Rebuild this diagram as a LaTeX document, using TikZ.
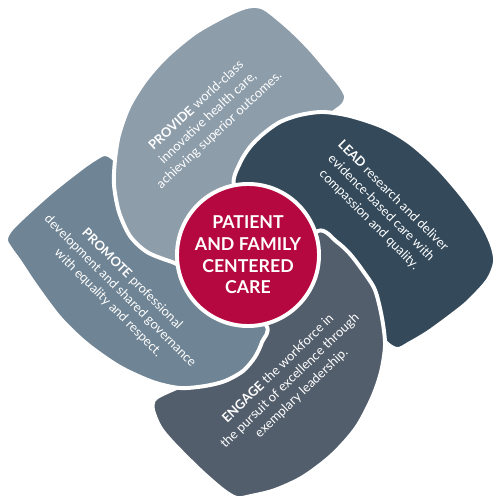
\documentclass[tikz,border=0pt]{standalone}
\usepackage{fontspec}
\setmainfont{Lato}

\definecolor{provideclr}{RGB}{141,157,170}
\definecolor{leadclr}{RGB}{52,74,91}
\definecolor{engageclr}{RGB}{83,94,108}
\definecolor{promoteclr}{RGB}{111,132,148}
\definecolor{careclr}{RGB}{182,8,64}

\tikzset{
  petal/.style={draw=white, line width=2.8pt, line join=round},
  blurb/.style={text=white, align=center, inner sep=0pt,
    font=\fontsize{9.2}{12}\selectfont},
  hub/.style={circle, fill=careclr, draw=white, line width=2.8pt,
    minimum size=3.55cm, inner sep=0pt, text=white, align=center,
    font=\bfseries\fontsize{12.6}{15.4}\selectfont},
}

% outline of the top petal, drawn twice (it lies over the left one)
\newcommand\provideshape{plot[smooth cycle] coordinates {
  (200,270) (172,262) (147,252) (130,236) (119,212) (114,185) (115,160)
  (119,135) (129,107) (145,81) (166,57) (195,33) (225,16) (243,8)
  (256,6) (267,10) (290,29) (310,49) (327,69) (340,85) (346,96)
  (343,105) (333,113) (310,135) (272,190) (245,235)}}

\begin{document}
\begin{tikzpicture}[x=0.025cm, y=-0.025cm]
  \useasboundingbox (0,0) rectangle (500,503);

  \path[petal, fill=provideclr] \provideshape;
  \path[petal, fill=leadclr] plot[smooth cycle] coordinates {
    (255,215) (234,185) (240,163) (250,147) (263,134) (280,122) (300,115)
    (323,112) (350,116) (383,127) (410,143) (437,167) (463,197) (482,224)
    (492,245) (495,262) (488,280) (470,300) (457,311) (430,331) (410,343)
    (396,349) (380,335) (365,295) (330,262) (290,240)};
  \path[petal, fill=engageclr] plot[smooth cycle] coordinates {
    (285,265) (318,231) (337,242) (350,254) (363,271) (375,290) (382,318)
    (385,345) (381,372) (372,398) (356,428) (332,455) (303,477) (275,490)
    (251,496) (237,498) (223,490) (200,470) (173,443) (160,427) (153,410)
    (154,400) (163,394) (190,382) (225,365) (250,330)};
  \path[petal, fill=promoteclr] plot[smooth cycle] coordinates {
    (225,290) (266,325) (262,342) (255,357) (243,371) (225,381) (205,386)
    (180,388) (153,382) (120,367) (87,344) (60,318) (36,286) (20,262)
    (10,248) (6,239) (14,226) (50,193) (83,167) (98,157) (105,154)
    (113,158) (130,175) (165,215) (200,255)};
  \begin{scope}
    \clip (0,0) rectangle (195,300);
    \path[petal, fill=provideclr] \provideshape;
  \end{scope}

  \node[hub] (care) at (248,255) {PATIENT\\AND FAMILY\\CENTERED\\CARE};

  \node[blurb, rotate=43] (provide) at (208,118)
    {\textbf{PROVIDE} world-class\\innovative health care,\\achieving superior outcomes.};
  \node[blurb, rotate=-45] (lead) at (381,208)
    {\textbf{LEAD} research and deliver\\evidence-based care with\\compassion and quality.};
  \node[blurb, rotate=44] (engage) at (290,381)
    {\textbf{ENGAGE} the workforce in\\the pursuit of excellence through\\exemplary leadership.};
  \node[blurb, rotate=-45] (promote) at (120,291)
    {\textbf{PROMOTE} professional\\development and shared governance\\with equality and respect.};
\end{tikzpicture}
\end{document}
